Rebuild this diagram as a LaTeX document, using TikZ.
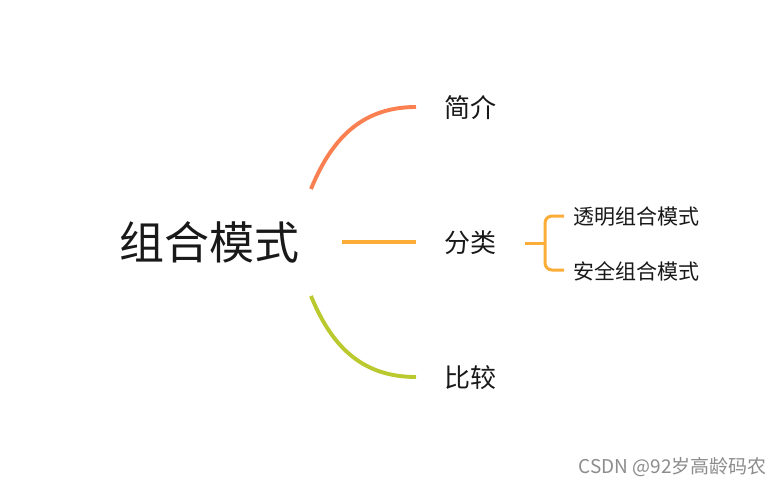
\documentclass[tikz,border=0pt]{standalone}
\usepackage{fontspec}
\setmainfont{Noto Sans CJK SC}
\newfontfamily\cjk{Noto Sans CJK SC}
\begin{document}
\begin{tikzpicture}[x=1pt,y=-1pt,
  branch/.style={line width=3.9pt},
  bracketline/.style={line width=3pt, color=cOrange, rounded corners=7pt},
  rootlbl/.style={font=\cjk\fontsize{45}{48}\selectfont, text=black!90, inner sep=0pt},
  childlbl/.style={font=\cjk\fontsize{26}{30}\selectfont, text=black!90, anchor=west, inner sep=0pt},
  leaflbl/.style={font=\cjk\fontsize{21}{24}\selectfont, text=black!90, anchor=west, inner sep=0pt},
  wm/.style={font=\cjk\fontsize{19}{22}\selectfont, text=black!45, anchor=east, inner sep=0pt}
]
\definecolor{cCoral}{HTML}{FA8052}
\definecolor{cOrange}{HTML}{FBAD38}
\definecolor{cGreen}{HTML}{BAC92E}
\useasboundingbox[fill=white] (0,0) rectangle (783,486);

\node[rootlbl] (root) at (209,242) {组合模式};

\coordinate (tS) at (311,189);
\coordinate (tE) at (416,107);
\coordinate (mS) at (342,242);
\coordinate (mE) at (416,242);
\coordinate (bS) at (311,296);
\coordinate (bE) at (416,377);

\draw[branch, cCoral] (tS) .. controls (333,135) and (365,107) .. (tE);
\draw[branch, cOrange] (mS) -- (mE);
\draw[branch, cGreen] (bS) .. controls (333,350) and (365,377) .. (bE);

\node[childlbl] (c1) at (444,108) {简介};
\node[childlbl] (c2) at (444,243) {分类};
\node[childlbl] (c3) at (444,378) {比较};

\coordinate (bk0) at (525,243);
\coordinate (bk1) at (545,243);
\coordinate (bkT) at (564,216);
\coordinate (bkB) at (564,270);
\draw[bracketline] (bk0) -- (bk1);
\draw[bracketline] (bkT) -- (545,216) -- (545,270) -- (bkB);

\node[leaflbl] (l1) at (573,217) {透明组合模式};
\node[leaflbl] (l2) at (573,271) {安全组合模式};

\node[wm] (w) at (767,467) {CSDN @92岁高龄码农};
\end{tikzpicture}
\end{document}
